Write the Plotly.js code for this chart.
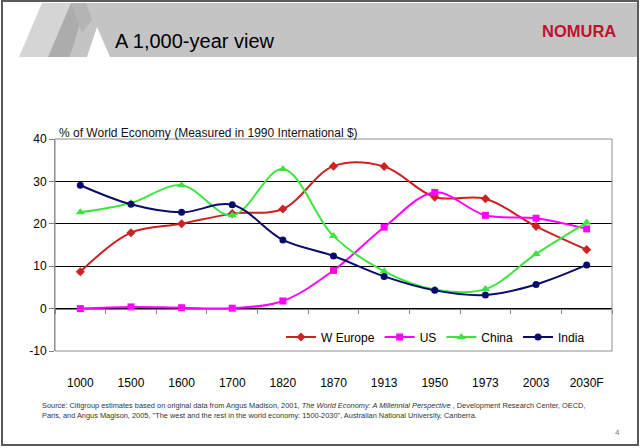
<!DOCTYPE html>
<html>
<head>
<meta charset="utf-8">
<script src="https://cdn.plot.ly/plotly-3.0.1.min.js"></script>
<style>html,body{margin:0;padding:0;background:#fff;}#chart{width:640px;height:448px;}</style>
</head>
<body>
<div id="chart"></div>
<script>
// ---- data ----
const years = ['1000','1500','1600','1700','1820','1870','1913','1950','1973','2003','2030F'];
const wEurope = [8.7, 17.9, 20.0, 22.4, 23.5, 33.6, 33.5, 26.3, 25.9, 19.4, 13.9];
const us      = [0.0, 0.4, 0.2, 0.1, 1.8, 9.0, 19.2, 27.4, 22.0, 21.3, 18.8];
const china   = [22.7, 24.9, 29.1, 22.0, 32.9, 17.1, 8.8, 4.5, 4.6, 12.9, 20.3];
const india   = [29.1, 24.6, 22.7, 24.5, 16.2, 12.4, 7.6, 4.3, 3.2, 5.7, 10.3];
const seriesNames = ['W Europe', 'US', 'China', 'India'];
const yTicks = [-10, 0, 10, 20, 30, 40];

// ---- layout geometry (pixels) ----
const W = 640, H = 448;
const M = {l: 55, r: 28, t: 139, b: 97};
const PW = W - M.l - M.r, PH = H - M.t - M.b;
const px = x => (x - M.l) / PW;
const py = y => (H - M.b - y) / PH;
const poly = pts => 'M ' + pts.map(p => px(p[0]).toFixed(5) + ' ' + py(p[1]).toFixed(5)).join(' L ') + ' Z';

const FONT = 'Liberation Sans, Arial, sans-serif';
const mk = (name, y, color, symbol, size) => ({
  type: 'scatter', mode: 'lines+markers', name: name, x: years, y: y,
  line: {color: color, width: 2, shape: 'spline', smoothing: 1},
  marker: {color: color, symbol: symbol, size: size}
});

const traces = [
  mk(seriesNames[0], wEurope, '#cc2222', 'diamond', 7),
  mk(seriesNames[1], us, '#ff00ff', 'square', 7),
  mk(seriesNames[2], china, '#3fe33f', 'triangle-up', 8),
  mk(seriesNames[3], india, '#0b0b6b', 'circle', 7)
];

const shapes = [
  // header band with notch
  {type:'path', xref:'paper', yref:'paper', layer:'below', line:{width:0}, fillcolor:'#c4c4c4',
   path: poly([[84,3],[637,3],[637,57],[110,57],[97,27],[87,57],[70,57]])},
  {type:'path', xref:'paper', yref:'paper', layer:'below', line:{width:0}, fillcolor:'#d5d5d5',
   path: poly([[19,57],[42,3],[72,3],[48,57]])},
  {type:'path', xref:'paper', yref:'paper', layer:'below', line:{width:0}, fillcolor:'#acacac',
   path: poly([[48,57],[71,3],[86,3],[70,57]])},
  {type:'path', xref:'paper', yref:'paper', layer:'below', line:{width:0}, fillcolor:'#b4b4b4',
   path: poly([[71,3],[86,3],[92,20],[82,33]])},
  // page frame
  {type:'rect', xref:'paper', yref:'paper', layer:'above', line:{color:'#5a5a5a', width:2}, fillcolor:'rgba(0,0,0,0)',
   x0: px(2), x1: px(638), y0: py(1), y1: py(445)},
  // plot box (above, so the outer grid lines read grey like the frame)
  {type:'rect', xref:'paper', yref:'paper', layer:'above', line:{color:'#8c8c8c', width:1}, fillcolor:'rgba(0,0,0,0)',
   x0: 0, x1: 1, y0: 0, y1: 1}
];

const annotations = [
  {xref:'paper', yref:'paper', x: px(540), y: py(30.5), xanchor:'left', yanchor:'middle', showarrow:false,
   text:'<b>NOMURA</b>', font:{family:FONT, size:16.5, color:'#c0122c'}},
  {xref:'paper', yref:'paper', x: px(57), y: py(133), xanchor:'left', yanchor:'middle', showarrow:false,
   text:'% of World Economy (Measured in 1990 International $)', font:{family:FONT, size:12, color:'#111'}},
  {xref:'paper', yref:'paper', x: px(40), y: py(399), xanchor:'left', yanchor:'top', showarrow:false, align:'left',
   text:'Source: Citigroup estimates based on original data from Angus Madison, 2001, <i>The World Economy: A Millennial Perspective</i> , Development Research Center, OECD,<br>Paris, and Angus Magison, 2005, "The west and the rest in the world economy: 1500-2030", Australian National University, Canberra.',
   font:{family:FONT, size:7.4, color:'#333333'}},
  {xref:'paper', yref:'paper', x: px(617), y: py(432), xanchor:'center', yanchor:'middle', showarrow:false,
   text:'4', font:{family:FONT, size:8, color:'#777'}}
];

const layout = {
  width: W, height: H,
  margin: M,
  paper_bgcolor: '#ffffff', plot_bgcolor: '#ffffff',
  font: {family: FONT, size: 12, color: '#000'},
  title: {text: 'A 1,000-year view', x: 115 / W, xref: 'container', xanchor: 'left',
          y: 1 - 41 / H, yref: 'container', yanchor: 'middle',
          font: {family: FONT, size: 20, color: '#000'}},
  xaxis: {type: 'category', categoryarray: years, categoryorder: 'array',
          anchor: 'free', position: 0.2, showline: true, linecolor: '#808080', linewidth: 1,
          ticks: 'outside', tickson: 'boundaries', ticklen: 4, tickcolor: '#808080',
          ticklabelstandoff: 63, showgrid: false, zeroline: false,
          tickfont: {family: FONT, size: 12, color: '#000'}, range: [-0.5, 10.5], fixedrange: true},
  yaxis: {range: [-10, 40], tickmode: 'array', tickvals: yTicks, ticktext: yTicks.map(String),
          showgrid: true, gridcolor: '#000', gridwidth: 1, zeroline: false,
          showline: true, linecolor: '#909090', ticks: 'outside', ticklen: 5, tickcolor: '#808080',
          tickfont: {family: FONT, size: 12, color: '#000'}, fixedrange: true},
  legend: {orientation: 'h', x: px(590), xanchor: 'right', y: py(337), yanchor: 'middle',
           bgcolor: 'rgba(0,0,0,0)', font: {family: FONT, size: 12, color: '#000'}, itemwidth: 30},
  shapes: shapes,
  annotations: annotations,
  showlegend: true
};

Plotly.newPlot('chart', traces, layout, {displayModeBar: false, staticPlot: true});
</script>
</body>
</html>
